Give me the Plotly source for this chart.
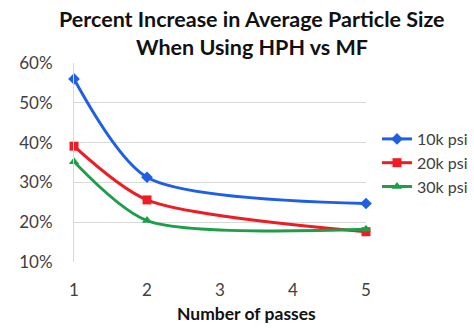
import plotly.graph_objects as go

# Number of passes through the homogenizer
passes = [1, 2, 5]

# Percent increase in average particle size (HPH vs MF), per pressure
psi_10k = [0.56, 0.313, 0.247]
psi_20k = [0.391, 0.256, 0.176]
psi_30k = [0.352, 0.204, 0.182]

series_names = ["10k psi", "20k psi", "30k psi"]
series_colors = ["#1f5ee6", "#ee1c24", "#1f9e4a"]
series_symbols = ["diamond", "square", "triangle-up"]

FONT = "Lato"
TEXT_COLOR = "#404040"

fig = go.Figure()
for name, vals, color, sym in zip(series_names, [psi_10k, psi_20k, psi_30k],
                                  series_colors, series_symbols):
    fig.add_trace(go.Scatter(
        x=passes, y=vals, name=name, mode="lines+markers",
        line=dict(color=color, width=3, shape="spline", smoothing=0.75),
        marker=dict(symbol=sym, size=9, color=color),
        cliponaxis=False,
    ))

fig.update_layout(
    width=474, height=328,
    margin=dict(l=74, r=108, t=63, b=66, autoexpand=False),
    paper_bgcolor="white", plot_bgcolor="white",
    font=dict(family=FONT, size=16, color=TEXT_COLOR),
    showlegend=True,
    legend=dict(x=(377 - 74) / 292, y=(262 - 163) / 199,
                xanchor="left", yanchor="middle",
                font=dict(family=FONT, size=16, color=TEXT_COLOR),
                itemwidth=30, tracegroupgap=5, bgcolor="rgba(0,0,0,0)"),
    xaxis=dict(range=[1, 5], tickvals=[1, 2, 3, 4, 5], showgrid=False,
               zeroline=False, showline=False, ticks="",
               ticklabelstandoff=16,
               tickfont=dict(size=17, color=TEXT_COLOR)),
    yaxis=dict(range=[0.1, 0.6], dtick=0.1, tickformat=".0%",
               showgrid=True, gridcolor="#d9d9d9", gridwidth=1,
               zeroline=False, showline=True, linecolor="#d9d9d9",
               ticks="", ticklabelstandoff=17,
               tickfont=dict(size=17, color=TEXT_COLOR)),
    annotations=[
        dict(text="<b>Percent Increase in Average Particle Size</b>",
             xref="paper", yref="paper", x=(252 - 74) / 292, y=(262 - 19) / 199,
             xanchor="center", yanchor="middle", showarrow=False,
             font=dict(family=FONT, size=21.5, color="#111111")),
        dict(text="<b>When Using HPH vs MF</b>",
             xref="paper", yref="paper", x=(252 - 74) / 292, y=(262 - 47) / 199,
             xanchor="center", yanchor="middle", showarrow=False,
             font=dict(family=FONT, size=21.5, color="#111111")),
        dict(text="<b>Number of passes</b>",
             xref="paper", yref="paper", x=(246 - 74) / 292, y=(262 - 313) / 199,
             xanchor="center", yanchor="middle", showarrow=False,
             font=dict(family=FONT, size=17.5, color="#111111")),
    ],
)

fig.write_html("out.html")
